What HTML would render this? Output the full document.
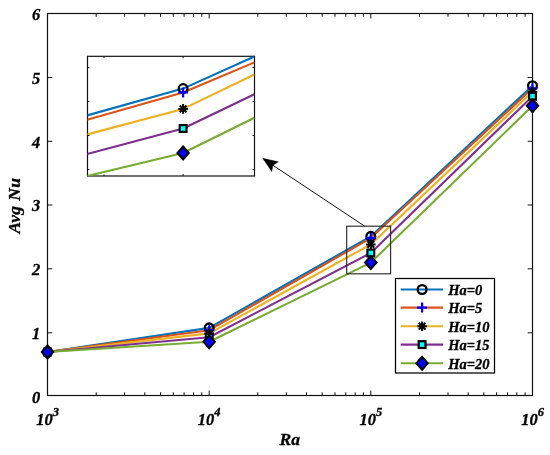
<!DOCTYPE html>
<html><head><meta charset="utf-8"><title>Avg Nu vs Ra</title>
<style>html,body{margin:0;padding:0;background:#fff}svg{display:block}text{font-family:"Liberation Serif","DejaVu Serif",serif;font-weight:bold;font-style:italic;fill:#000;stroke:#000;stroke-width:0.3px}</style></head><body>
<svg width="550" height="455" viewBox="0 0 550 455">
<rect width="550" height="455" fill="#fff"/>
<rect x="47.5" y="13.5" width="485.0" height="382.0" fill="none" stroke="#111" stroke-width="1.2"/>
<path d="M96.2 395.5v-3.2M96.2 13.5v3.2M124.6 395.5v-3.2M124.6 13.5v3.2M144.8 395.5v-3.2M144.8 13.5v3.2M160.5 395.5v-3.2M160.5 13.5v3.2M173.3 395.5v-3.2M173.3 13.5v3.2M184.1 395.5v-3.2M184.1 13.5v3.2M193.5 395.5v-3.2M193.5 13.5v3.2M201.8 395.5v-3.2M201.8 13.5v3.2M209.2 395.5v-5M209.2 13.5v5M257.8 395.5v-3.2M257.8 13.5v3.2M286.3 395.5v-3.2M286.3 13.5v3.2M306.5 395.5v-3.2M306.5 13.5v3.2M322.2 395.5v-3.2M322.2 13.5v3.2M335.0 395.5v-3.2M335.0 13.5v3.2M345.8 395.5v-3.2M345.8 13.5v3.2M355.2 395.5v-3.2M355.2 13.5v3.2M363.4 395.5v-3.2M363.4 13.5v3.2M370.8 395.5v-5M370.8 13.5v5M419.5 395.5v-3.2M419.5 13.5v3.2M448.0 395.5v-3.2M448.0 13.5v3.2M468.2 395.5v-3.2M468.2 13.5v3.2M483.8 395.5v-3.2M483.8 13.5v3.2M496.6 395.5v-3.2M496.6 13.5v3.2M507.5 395.5v-3.2M507.5 13.5v3.2M516.8 395.5v-3.2M516.8 13.5v3.2M525.1 395.5v-3.2M525.1 13.5v3.2M47.5 332.8h4.8M532.5 332.8h-4.8M47.5 268.8h4.8M532.5 268.8h-4.8M47.5 205.0h4.8M532.5 205.0h-4.8M47.5 141.3h4.8M532.5 141.3h-4.8M47.5 77.5h4.8M532.5 77.5h-4.8" stroke="#111" stroke-width="1" fill="none"/>
<polyline points="47.5,352.0 209.2,327.9 370.8,236.4 532.5,85.7" fill="none" stroke="#0072BD" stroke-width="2.1" stroke-linejoin="round"/>
<polyline points="47.5,352.0 209.2,330.2 370.8,238.1 532.5,88.3" fill="none" stroke="#D95319" stroke-width="2.1" stroke-linejoin="round"/>
<polyline points="47.5,352.0 209.2,333.4 370.8,244.4 532.5,91.8" fill="none" stroke="#EDB120" stroke-width="2.1" stroke-linejoin="round"/>
<polyline points="47.5,352.0 209.2,337.2 370.8,253.0 532.5,96.2" fill="none" stroke="#7E2F8E" stroke-width="2.1" stroke-linejoin="round"/>
<polyline points="47.5,352.0 209.2,341.8 370.8,262.6 532.5,105.8" fill="none" stroke="#77AC30" stroke-width="2.1" stroke-linejoin="round"/>
<circle cx="47.5" cy="352.0" r="4.4" fill="none" stroke="#000" stroke-width="2.3"/>
<circle cx="209.2" cy="327.9" r="4.4" fill="none" stroke="#000" stroke-width="2.3"/>
<circle cx="370.8" cy="236.4" r="4.4" fill="none" stroke="#000" stroke-width="2.3"/>
<circle cx="532.5" cy="85.7" r="4.4" fill="none" stroke="#000" stroke-width="2.3"/>
<path d="M42.5 352.0H52.5M47.5 347.0V357.0" stroke="#0000ff" stroke-width="2.2" fill="none"/>
<path d="M204.2 330.2H214.2M209.2 325.2V335.2" stroke="#0000ff" stroke-width="2.2" fill="none"/>
<path d="M365.8 238.1H375.8M370.8 233.1V243.1" stroke="#0000ff" stroke-width="2.2" fill="none"/>
<path d="M527.5 88.3H537.5M532.5 83.3V93.3" stroke="#0000ff" stroke-width="2.2" fill="none"/>
<path d="M42.7 352.0H52.3M47.5 347.2V356.8M44.1 348.6L50.9 355.4M44.1 355.4L50.9 348.6" stroke="#000" stroke-width="2" fill="none"/>
<path d="M204.4 333.4H214.0M209.2 328.6V338.2M205.8 330.0L212.6 336.8M205.8 336.8L212.6 330.0" stroke="#000" stroke-width="2" fill="none"/>
<path d="M366.0 244.4H375.6M370.8 239.6V249.2M367.4 241.0L374.2 247.8M367.4 247.8L374.2 241.0" stroke="#000" stroke-width="2" fill="none"/>
<path d="M527.7 91.8H537.3M532.5 87.0V96.6M529.1 88.4L535.9 95.2M529.1 95.2L535.9 88.4" stroke="#000" stroke-width="2" fill="none"/>
<rect x="44.1" y="348.6" width="6.8" height="6.8" fill="#00ffff" stroke="#000" stroke-width="2.2"/>
<rect x="205.8" y="333.8" width="6.8" height="6.8" fill="#00ffff" stroke="#000" stroke-width="2.2"/>
<rect x="367.4" y="249.6" width="6.8" height="6.8" fill="#00ffff" stroke="#000" stroke-width="2.2"/>
<rect x="529.1" y="92.8" width="6.8" height="6.8" fill="#00ffff" stroke="#000" stroke-width="2.2"/>
<path d="M47.5 345.5L53.2 352.0L47.5 358.5L41.8 352.0Z" fill="#0000ff" stroke="#000" stroke-width="2"/>
<path d="M209.2 335.3L214.9 341.8L209.2 348.3L203.5 341.8Z" fill="#0000ff" stroke="#000" stroke-width="2"/>
<path d="M370.8 256.1L376.5 262.6L370.8 269.1L365.1 262.6Z" fill="#0000ff" stroke="#000" stroke-width="2"/>
<path d="M532.5 99.3L538.2 105.8L532.5 112.3L526.8 105.8Z" fill="#0000ff" stroke="#000" stroke-width="2"/>
<rect x="346.7" y="226.2" width="43.9" height="47.6" fill="none" stroke="#2a2a2a" stroke-width="1.15"/>
<path d="M364.9 226.3L272.5 165" stroke="#111" stroke-width="1" fill="none"/>
<path d="M262.7 158.3L278.3 161.8L272.8 165.4L271.8 171.6Z" fill="#000" stroke="#000" stroke-width="0.4" stroke-linejoin="round"/>
<rect x="87.5" y="56.3" width="167.0" height="119.7" fill="#fff" stroke="#111" stroke-width="1.2"/>
<clipPath id="ic"><rect x="87.5" y="56.3" width="167" height="119.7"/></clipPath>
<g clip-path="url(#ic)">
<polyline points="87.2,115.4 183.1,88.6 254.4,56.5" fill="none" stroke="#0072BD" stroke-width="2.1" stroke-linejoin="round"/>
<polyline points="87.2,119.7 183.1,92.5 254.4,62.4" fill="none" stroke="#D95319" stroke-width="2.1" stroke-linejoin="round"/>
<polyline points="87.2,134.4 183.1,108.9 254.4,74.5" fill="none" stroke="#EDB120" stroke-width="2.1" stroke-linejoin="round"/>
<polyline points="87.2,154.0 183.1,128.5 254.4,94.2" fill="none" stroke="#7E2F8E" stroke-width="2.1" stroke-linejoin="round"/>
<polyline points="87.2,176.0 183.1,153.0 254.4,117.7" fill="none" stroke="#77AC30" stroke-width="2.1" stroke-linejoin="round"/>
</g>
<circle cx="183.1" cy="88.6" r="4.4" fill="none" stroke="#000" stroke-width="2.3"/>
<path d="M178.1 92.5H188.1M183.1 87.5V97.5" stroke="#0000ff" stroke-width="2.2" fill="none"/>
<path d="M178.3 108.9H187.9M183.1 104.1V113.7M179.7 105.5L186.5 112.3M179.7 112.3L186.5 105.5" stroke="#000" stroke-width="2" fill="none"/>
<rect x="179.7" y="125.1" width="6.8" height="6.8" fill="#00ffff" stroke="#000" stroke-width="2.2"/>
<path d="M183.1 146.5L188.8 153.0L183.1 159.5L177.4 153.0Z" fill="#0000ff" stroke="#000" stroke-width="2"/>
<path d="M183.1 176.0v-2M183.1 56.3v2M104 56.3v1.5M104 176.0v-1.5M87.5 67.5h2M254.5 67.5h-2M87.5 101.5h2M254.5 101.5h-2M87.5 135.5h2M254.5 135.5h-2M87.5 169.5h2M254.5 169.5h-2" stroke="#111" stroke-width="1"/>
<rect x="395.5" y="278.5" width="99.0" height="94.5" fill="#fff" stroke="#000" stroke-width="1.25"/>
<path d="M400.7 289.5H443.1" stroke="#0072BD" stroke-width="2.1"/>
<circle cx="422.1" cy="289.5" r="4.4" fill="none" stroke="#000" stroke-width="2.3"/>
<text x="448.2" y="294.9" font-size="14.5">Ha=0</text>
<path d="M400.7 307.6H443.1" stroke="#D95319" stroke-width="2.1"/>
<path d="M417.1 307.6H427.1M422.1 302.6V312.6" stroke="#0000ff" stroke-width="2.2" fill="none"/>
<text x="448.2" y="313.0" font-size="14.5">Ha=5</text>
<path d="M400.7 326.2H443.1" stroke="#EDB120" stroke-width="2.1"/>
<path d="M417.3 326.2H426.9M422.1 321.4V331.0M418.7 322.8L425.5 329.6M418.7 329.6L425.5 322.8" stroke="#000" stroke-width="2" fill="none"/>
<text x="448.2" y="331.6" font-size="14.5">Ha=10</text>
<path d="M400.7 344.6H443.1" stroke="#7E2F8E" stroke-width="2.1"/>
<rect x="418.7" y="341.2" width="6.8" height="6.8" fill="#00ffff" stroke="#000" stroke-width="2.2"/>
<text x="448.2" y="350.0" font-size="14.5">Ha=15</text>
<path d="M400.7 363.3H443.1" stroke="#77AC30" stroke-width="2.1"/>
<path d="M422.1 356.8L427.8 363.3L422.1 369.8L416.4 363.3Z" fill="#0000ff" stroke="#000" stroke-width="2"/>
<text x="448.2" y="368.7" font-size="14.5">Ha=20</text>
<text x="40.3" y="403.4" font-size="16.5" text-anchor="end">0</text>
<text x="40.3" y="339.2" font-size="16.5" text-anchor="end">1</text>
<text x="40.3" y="275.2" font-size="16.5" text-anchor="end">2</text>
<text x="40.3" y="211.4" font-size="16.5" text-anchor="end">3</text>
<text x="40.3" y="147.7" font-size="16.5" text-anchor="end">4</text>
<text x="40.3" y="83.9" font-size="16.5" text-anchor="end">5</text>
<text x="40.3" y="19.9" font-size="16.5" text-anchor="end">6</text>
<text x="47.5" y="424.5" font-size="16.5" text-anchor="middle">10<tspan dy="-8.2" font-size="12.5">3</tspan></text>
<text x="209.2" y="424.5" font-size="16.5" text-anchor="middle">10<tspan dy="-8.2" font-size="12.5">4</tspan></text>
<text x="370.8" y="424.5" font-size="16.5" text-anchor="middle">10<tspan dy="-8.2" font-size="12.5">5</tspan></text>
<text x="532.5" y="424.5" font-size="16.5" text-anchor="middle">10<tspan dy="-8.2" font-size="12.5">6</tspan></text>
<text x="289.8" y="445.4" font-size="17.6" text-anchor="middle">Ra</text>
<text transform="translate(20.0,205.6) rotate(-90)" font-size="17.5" text-anchor="middle" letter-spacing="0.35">Avg Nu</text>
</svg></body></html>
